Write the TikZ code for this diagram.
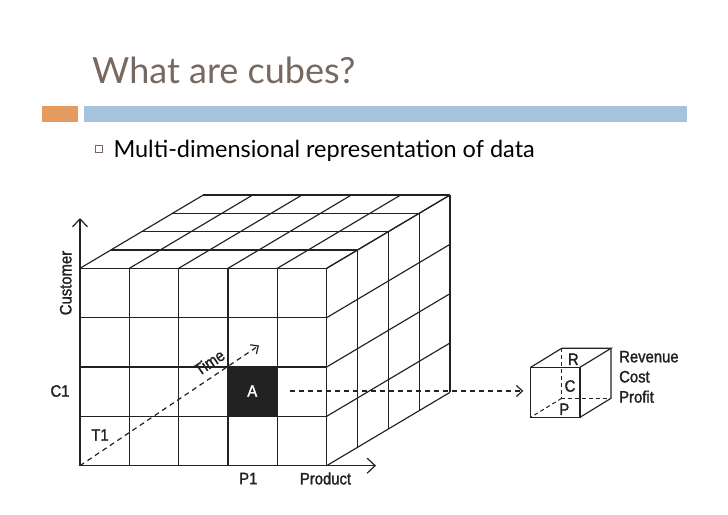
\documentclass[tikz,border=0pt]{standalone}
\usepackage{fontspec}
\setmainfont{Lato}
\newfontfamily\lab[FakeStretch=0.9,FakeBold=1.6]{Liberation Sans}
\usetikzlibrary{arrows.meta}
\definecolor{titlec}{HTML}{776860}
\definecolor{orangebar}{HTML}{E59A5E}
\definecolor{bluebar}{HTML}{A6C3DB}
\definecolor{ink}{HTML}{222222}
\begin{document}
\begin{tikzpicture}[x=1pt,y=-1pt,
  grid/.style={line width=1.15pt, draw=ink},
  axis/.style={line width=1.2pt, draw=ink, -{Straight Barb[length=8pt,width=15pt,line width=1.2pt]}},
  dashedarrow/.style={line width=1.2pt, draw=ink, dash pattern=on 5pt off 4pt, -{Straight Barb[length=6pt,width=11pt,line width=1.2pt]}},
  hidden/.style={line width=1pt, draw=ink, dash pattern=on 4pt off 3pt},
  lbl/.style={font=\lab\fontsize{16.5}{18}\selectfont, inner sep=0pt, text=ink}]
\useasboundingbox[fill=white] (0,0) rectangle (728,514);

% header
\node[anchor=base west, inner sep=0pt, text=titlec, font=\fontsize{36}{40}\selectfont] (title) at (92,83.3) {What are cubes?};
\fill[orangebar] (41.7,106) rectangle (78.3,122);
\fill[bluebar] (83.5,106) rectangle (687,122);
\draw[line width=0.7pt, draw=titlec] (95,145) rectangle (102,152);
\node[anchor=base west, inner sep=0pt, text=black, font=\fontsize{23.5}{26}\selectfont] (bullet) at (113.3,157) {Multi-dimensional representation of data};

% big cube
\def\W{49.333}
\def\DX{30.83}
\def\DY{-18.33}
% top face
\foreach \i in {0,...,4}
  \draw[grid] ({80+\i*\DX},{268.33+\i*\DY}) -- ({326.67+\i*\DX},{268.33+\i*\DY});
\foreach \j in {0,...,5}
  \draw[grid] ({80+\j*\W},268.33) -- ({80+\j*\W+4*\DX},{268.33+4*\DY});
% right face
\foreach \i in {0,...,4}
  \draw[grid] ({326.67+\i*\DX},{268.33+\i*\DY}) -- ({326.67+\i*\DX},{465.67+\i*\DY});
\foreach \k in {0,...,4}
  \draw[grid] (326.67,{268.33+\k*\W}) -- ({326.67+4*\DX},{268.33+\k*\W+4*\DY});
% front face
\foreach \j in {1,...,5}
  \draw[grid] ({80+\j*\W},268.33) -- ({80+\j*\W},465.67);
\foreach \k in {0,...,3}
  \draw[grid] (80,{268.33+\k*\W}) -- (326.67,{268.33+\k*\W});
% cell A
\fill[ink] (227.67,367) rectangle (277,416.33);
\node[lbl, text=white] (A) at (252.3,391) {A};

% axes
\coordinate (O) at (80,465.67);
\coordinate (Ctip) at (80,218);
\coordinate (Ptip) at (376,465.67);
\coordinate (Ttip) at (259,345.5);
\draw[axis] (O) -- (Ctip);
\draw[axis] (O) -- (Ptip);
\draw[dashedarrow] (O) -- (Ttip) node[lbl, pos=0.765, sloped, above=7pt] (time) {Time};

\node[lbl, rotate=90] (cust) at (65.7,283) {Customer};
\node[lbl] (c1) at (60,391) {C1};
\node[lbl] (t1) at (100,435) {T1};
\node[lbl] (p1) at (248.3,478.5) {P1};
\node[lbl] (prod) at (325.5,478.5) {Product};

% small cube
\coordinate (fa) at (530.7,367.3);
\coordinate (fb) at (580,367.3);
\coordinate (fc) at (580,417.3);
\coordinate (fd) at (530.7,417.3);
\coordinate (ba) at (561.7,348.3);
\coordinate (bb) at (611,348.3);
\coordinate (bc) at (611,398.3);
\coordinate (bd) at (561.7,398.3);
\draw[grid] (fa) rectangle (fc);
\draw[grid] (fa) -- (ba) -- (bb) -- (fb);
\draw[grid] (bb) -- (bc) -- (fc);
\draw[hidden] (ba) -- (bd) -- (bc);
\draw[hidden] (bd) -- (fd);
\node[lbl] (R) at (573.3,359.3) {R};
\node[lbl] (C) at (570,386) {C};
\node[lbl] (P) at (564.3,409.3) {P};
\node[lbl, anchor=west] (rev) at (619,356.7) {Revenue};
\node[lbl, anchor=west] (cost) at (619,376.7) {Cost};
\node[lbl, anchor=west] (prof) at (619,396.7) {Profit};

% dashed link
\coordinate (Lstart) at (290,391);
\coordinate (Lend) at (523.3,391);
\draw[dashedarrow] (Lstart) -- (Lend);
\end{tikzpicture}
\end{document}
